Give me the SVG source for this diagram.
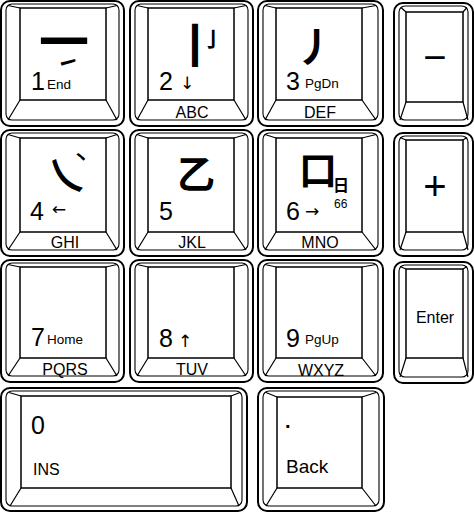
<svg xmlns="http://www.w3.org/2000/svg" width="474" height="513" viewBox="0 0 474 513">
<style>
.o{fill:#fff;stroke:#000;stroke-width:2}
.s{fill:none;stroke:#000;stroke-width:1.1}
.f{fill:#fff;stroke:#000;stroke-width:1.5}
.d{fill:none;stroke:#000;stroke-width:1.2}
text{font-family:"Liberation Sans",Arial,sans-serif;fill:#000}
.n{font-size:25px}
.sm{font-size:13.5px}
.lb{font-size:16px;text-anchor:middle}
.ar{font-size:17px;font-family:"DejaVu Sans",sans-serif}
.cj{font-family:"Noto Sans CJK TC","Noto Sans CJK SC",sans-serif;text-anchor:middle;font-weight:700}
</style>
<rect width="474" height="513" fill="#fff"/>
<g id="key1">
<rect class="o" x="1" y="1" width="123" height="125" rx="9"/>
<rect class="s" x="6" y="4" width="113" height="116" rx="6"/>
<rect class="f" x="20" y="8" width="86" height="92"/>
<path class="d" d="M20 8L8 5.5M106 8L117 5.5M20 100L8 120M106 100L117 120"/>
<text class="cj" x="64" y="60" font-size="50">一</text>
<text class="cj" x="68" y="70" font-size="22">㇀</text>
<text class="n" x="31" y="90">1</text>
<text class="sm" x="47" y="89">End</text>
</g>
<g id="key2">
<rect class="o" x="130" y="1" width="123" height="125" rx="9"/>
<rect class="s" x="135" y="4" width="113" height="116" rx="6"/>
<rect class="f" x="148" y="8" width="86" height="92"/>
<path class="d" d="M148 8L137 5.5M234 8L246 5.5M148 100L137 120M234 100L246 120"/>
<text class="cj" x="195" y="62" font-size="46">丨</text>
<text class="cj" x="213" y="47" font-size="20">亅</text>
<text class="n" x="159" y="90">2</text>
<text class="ar" x="180" y="89">↓</text>
<text class="lb" x="192" y="118">ABC</text>
</g>
<g id="key3">
<rect class="o" x="258" y="1" width="125" height="125" rx="9"/>
<rect class="s" x="263" y="4" width="115" height="116" rx="6"/>
<rect class="f" x="276" y="8" width="86" height="92"/>
<path class="d" d="M276 8L265 5.5M362 8L376 5.5M276 100L265 120M362 100L376 120"/>
<text class="cj" x="315" y="62" font-size="40">丿</text>
<text class="n" x="286" y="90">3</text>
<text class="sm" x="305" y="88">PgDn</text>
<text class="lb" x="320" y="118">DEF</text>
</g>
<g id="keyMinus">
<rect class="o" x="394" y="3" width="79" height="123" rx="9"/>
<rect class="s" x="399" y="6" width="69" height="114" rx="6"/>
<rect class="f" x="406" y="12" width="57" height="90"/>
<path class="d" d="M406 12L401 7.5M463 12L467 7.5M406 102L400 120M463 102L468 120"/>
<text x="435" y="71" font-size="40" text-anchor="middle">−</text>
</g>
<g id="key4">
<rect class="o" x="1" y="130" width="123" height="126" rx="9"/>
<rect class="s" x="6" y="133" width="113" height="117" rx="6"/>
<rect class="f" x="20" y="138" width="86" height="94"/>
<path class="d" d="M20 138L8 134.5M106 138L117 134.5M20 232L8 250M106 232L117 250"/>
<text class="cj" x="66" y="188" font-size="38">乀</text>
<text class="cj" x="81" y="164" font-size="18">丶</text>
<text class="n" x="30" y="220">4</text>
<text class="ar" x="52" y="215">←</text>
<text class="lb" x="65" y="248">GHI</text>
</g>
<g id="key5">
<rect class="o" x="130" y="130" width="123" height="126" rx="9"/>
<rect class="s" x="135" y="133" width="113" height="117" rx="6"/>
<rect class="f" x="148" y="138" width="86" height="94"/>
<path class="d" d="M148 138L137 134.5M234 138L246 134.5M148 232L137 250M234 232L246 250"/>
<text class="cj" x="196" y="188" font-size="38">乙</text>
<text class="n" x="159" y="220">5</text>
<text class="lb" x="192" y="248">JKL</text>
</g>
<g id="key6">
<rect class="o" x="258" y="130" width="125" height="126" rx="9"/>
<rect class="s" x="263" y="133" width="115" height="117" rx="6"/>
<rect class="f" x="276" y="138" width="86" height="94"/>
<path class="d" d="M276 138L265 134.5M362 138L376 134.5M276 232L265 250M362 232L376 250"/>
<text class="cj" x="318" y="184" font-size="38">口</text>
<text class="cj" x="341" y="191" font-size="16">日</text>
<text x="334" y="208" font-size="12">66</text>
<text class="n" x="286" y="220">6</text>
<text class="ar" x="305" y="217">→</text>
<text class="lb" x="320" y="248">MNO</text>
</g>
<g id="keyPlus">
<rect class="o" x="394" y="133" width="79" height="123" rx="9"/>
<rect class="s" x="399" y="136" width="69" height="114" rx="6"/>
<rect class="f" x="406" y="140" width="57" height="92"/>
<path class="d" d="M406 140L400 137.5M463 140L467 137.5M406 232L400 250M463 232L468 250"/>
<text x="435" y="200" font-size="40" text-anchor="middle">+</text>
</g>
<g id="key7">
<rect class="o" x="1" y="260" width="123" height="122" rx="9"/>
<rect class="s" x="6" y="263" width="113" height="113" rx="6"/>
<rect class="f" x="20" y="267" width="86" height="91"/>
<path class="d" d="M20 267L8 264.5M106 267L117 264.5M20 358L8 376M106 358L117 376"/>
<text class="n" x="31" y="346">7</text>
<text class="sm" x="47" y="344">Home</text>
<text class="lb" x="65" y="375">PQRS</text>
</g>
<g id="key8">
<rect class="o" x="130" y="260" width="123" height="122" rx="9"/>
<rect class="s" x="135" y="263" width="113" height="113" rx="6"/>
<rect class="f" x="148" y="267" width="86" height="91"/>
<path class="d" d="M148 267L137 264.5M234 267L246 264.5M148 358L137 376M234 358L246 376"/>
<text class="n" x="159" y="347">8</text>
<text class="ar" x="178" y="347">↑</text>
<text class="lb" x="192" y="375">TUV</text>
</g>
<g id="key9">
<rect class="o" x="258" y="260" width="125" height="122" rx="9"/>
<rect class="s" x="263" y="263" width="115" height="113" rx="6"/>
<rect class="f" x="276" y="267" width="86" height="91"/>
<path class="d" d="M276 267L265 264.5M362 267L376 264.5M276 358L265 376M362 358L376 376"/>
<text class="n" x="286" y="347">9</text>
<text class="sm" x="305" y="344">PgUp</text>
<text class="lb" x="321" y="376">WXYZ</text>
</g>
<g id="keyEnter">
<rect class="o" x="394" y="262" width="79" height="121" rx="9"/>
<rect class="s" x="399" y="265" width="69" height="112" rx="6"/>
<rect class="f" x="406" y="269" width="57" height="89"/>
<path class="d" d="M406 269L400 266.5M463 269L467 266.5M406 358L400 377M463 358L468 377"/>
<text x="435" y="323" font-size="16" text-anchor="middle">Enter</text>
</g>
<g id="key0">
<rect class="o" x="1" y="388" width="246" height="123" rx="9"/>
<rect class="s" x="6" y="391" width="236" height="115" rx="6"/>
<rect class="f" x="21" y="396" width="210" height="92"/>
<path class="d" d="M21 396L9 392.5M231 396L240 392.5M21 488L10 506M231 488L239 506"/>
<text class="n" x="31" y="434">0</text>
<text x="33" y="475" font-size="16">INS</text>
</g>
<g id="keyDot">
<rect class="o" x="258" y="388" width="126" height="123" rx="9"/>
<rect class="s" x="263" y="391" width="116" height="115" rx="6"/>
<rect class="f" x="277" y="397" width="85" height="91"/>
<path class="d" d="M277 397L266 392.5M362 397L376 392.5M277 488L266 506M362 488L376 506"/>
<text x="285" y="428" font-size="20" font-weight="700">.</text>
<text x="286" y="473" font-size="19">Back</text>
</g>
<g id="connectors"/>
</svg>
